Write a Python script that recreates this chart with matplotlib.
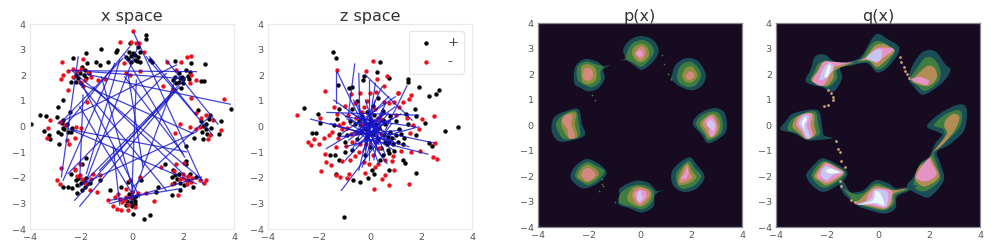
import numpy as np
import matplotlib
matplotlib.use('Agg')
import matplotlib.pyplot as plt
from matplotlib.path import Path
from matplotlib.patches import PathPatch

# x space points
x_black = [(-3.96,0.09),(-3.62,0.45),(-3.36,0.40),(-3.45,-0.18),(-3.25,-0.34),(-2.86,-0.70),(-2.93,0.38),(-2.92,0.77),(-2.72,1.04),(-2.43,0.57),(-2.70,0.25),(-2.90,-0.21),(-2.51,-0.21),(-3.22,-0.47),(-2.30,2.68),(-1.79,2.88),(-1.20,3.04),(-1.27,2.40),(-1.42,2.50),(-0.93,2.52),(-0.64,2.92),(-0.59,2.98),(-1.97,2.33),(-2.19,1.75),(-2.40,1.75),(-1.76,2.46),(0.53,3.57),(0.56,3.40),(0.24,3.09),(-0.09,3.24),(0.04,2.85),(-0.22,2.72),(0.30,2.92),(0.72,2.59),(0.80,2.53),(1.67,2.55),(2.33,2.46),(2.85,2.43),(2.72,1.77),(2.82,1.78),(2.26,2.14),(2.20,1.97),(1.87,1.88),(1.61,1.81),(1.74,1.68),(1.92,1.49),(2.59,0.66),(3.87,0.70),(3.50,0.22),(3.41,-0.28),(3.04,0.45),(2.91,-0.08),(2.78,-0.47),(2.45,-0.43),(2.13,-0.77),(2.10,-1.34),(2.13,-1.45),(-1.79,-1.22),(-1.98,-1.45),(-2.41,-1.84),(-2.18,-2.10),(-1.27,-2.10),(-1.85,-2.36),(-2.70,-2.36),(-2.50,-2.38),(-2.34,-2.40),(-2.16,-2.60),(-1.98,-2.49),(-0.88,-2.49),(-0.42,-2.36),(-0.16,-2.16),(0.37,-2.10),(1.02,-2.36),(0.95,-2.55),(1.55,-2.66),(1.87,-2.49),(2.39,-2.36),(2.52,-1.97),(2.27,-1.84),(1.61,-1.71),(1.29,-1.45),(1.55,-1.97),(0.04,-3.40),(0.10,-3.01),(0.46,-3.60),(0.69,-3.44),(-0.03,-2.95),(-0.09,-2.75),(-0.15,2.65),(0.1,2.6),(0.25,2.7),(-0.05,2.5),(0.3,2.5),(-2.2,2.0),(-1.8,1.9),(-2.0,1.7),(-1.7,2.1),(1.95,1.95),(2.1,2.2),(1.7,1.95),(2.0,1.7),(2.9,0.1),(3.0,0.3),(2.75,-0.2),(-2.6,0.05),(-2.75,0.15),(-2.65,-0.1),(-2.35,-0.05),(-1.9,-2.1),(-2.0,-2.2),(-1.65,-2.2),(1.75,-2.05),(1.9,-2.2),(2.2,-2.1),(0.0,-3.1),(0.05,-2.8),(-0.2,-2.9),(-0.02,2.75),(0.12,2.78),(-0.1,2.9),(0.18,2.55),(-2.05,2.1),(-1.9,2.0),(-1.85,2.2),(-2.1,1.9),(1.85,2.1),(2.0,1.85),(2.25,1.85),(1.85,1.75),(2.8,0.0),(3.1,-0.05),(2.95,-0.3),(2.7,0.2),(-2.7,-0.05),(-2.55,0.1),(-2.8,-0.3),(-2.4,-0.2),(-2.1,-2.0),(-1.8,-2.0),(-1.75,-2.25),(-2.15,-2.3),(1.7,-1.9),(2.05,-2.3),(1.85,-1.85),(1.65,-2.2),(0.1,-2.9),(-0.1,-2.65),(0.15,-2.7),(-0.25,-3.05)]
x_red = [(-2.75,2.53),(-1.94,2.62),(-0.48,3.28),(0.04,3.71),(-0.03,3.31),(0.14,3.27),(0.27,3.25),(0.46,2.92),(-0.33,2.46),(-0.09,2.0),(0.30,2.16),(-0.22,2.10),(1.37,2.50),(2.15,2.70),(2.32,2.75),(1.93,2.53),(2.32,2.0),(2.52,1.81),(2.26,1.68),(1.22,1.58),(1.74,2.20),(1.61,1.45),(2.32,1.12),(3.59,1.08),(2.52,0.51),(2.91,0.45),(3.17,0.25),(3.50,-0.12),(3.04,-0.34),(2.65,-0.01),(2.52,-0.08),(2.26,-0.01),(1.87,0.09),(1.67,-0.24),(2.98,-0.47),(2.72,0.35),(-2.19,-0.01),(-2.00,-0.04),(-3.22,0.25),(-3.29,-0.05),(-3.35,-0.43),(-2.64,0.05),(-2.84,0.18),(-2.55,-0.53),(-2.49,-0.69),(-2.24,-0.44),(-1.76,0.96),(-2.51,1.42),(-2.80,1.84),(-2.70,2.0),(-2.51,2.18),(-2.31,1.94),(-1.72,2.14),(-1.33,1.81),(-1.07,1.84),(-1.92,1.58),(-2.05,1.75),(2.13,-2.10),(2.04,-1.42),(1.15,-1.58),(1.74,-1.45),(2.65,-2.07),(2.91,-2.10),(2.81,-2.20),(1.80,-2.68),(1.55,-2.23),(2.00,-1.84),(2.32,-2.17),(-2.77,-1.62),(-2.05,-1.45),(-2.24,-1.64),(-1.53,-1.84),(-1.27,-1.90),(-2.94,-2.10),(-2.81,-2.23),(-1.66,-2.49),(-1.36,-2.55),(-2.05,-1.90),(-2.24,-1.71),(-0.96,-2.88),(-0.74,-3.11),(-0.59,-3.21),(-0.42,-3.25),(-0.16,-3.27),(-0.68,-2.75),(-0.55,-2.62),(-0.09,-2.10),(0.30,-1.97),(0.23,-2.59),(0.56,-2.59),(0.86,-2.91),(-0.22,-2.42),(0.10,-3.14),(-0.29,-2.88),(-0.03,-2.75),(-0.48,-2.81),(-2.15,2.15),(-2.0,2.25),(-1.85,1.8),(-2.3,2.25),(-1.6,1.95),(2.0,-2.0),(2.2,-1.95),(2.35,-2.0),(1.9,-2.05),(2.15,-2.25),(1.65,-1.75),(-1.95,-2.05),(-1.85,-2.2),(-1.6,-2.05),(-2.15,-1.95),(-0.25,-2.75),(-0.15,-3.05),(-0.4,-2.95),(0.0,-2.55)]
x_lines = [(3.85,0.87,-1.85,2.05),(0.08,3.64,2.78,-2.23),(-2.11,2.72,-2.77,-1.97),(-2.25,-2.88,2.13,1.94),(-2.05,-3.11,1.74,1.42),(-2.90,0.12,1.74,2.40),(-2.70,0.25,-0.35,2.66),(-2.51,-1.84,1.34,2.07),(-2.64,-0.01,-0.09,3.11),(-2.31,2.14,2.78,-2.10),(-2.44,2.18,2.52,2.14),(-1.66,2.14,1.87,1.88),(-2.51,-0.08,2.52,-2.23),(-2.05,1.68,1.34,-2.49),(-0.29,2.79,2.06,-1.19),(2.52,0.44,0.69,2.72),(3.17,-0.34,0.56,2.72),(3.37,0.09,1.34,2.59),(-1.20,1.94,0.04,-2.49),(-2.05,0.77,0.17,-2.88),(-0.87,-3.01,2.72,-1.97),(-0.87,-2.88,1.93,-2.42),(2.13,-0.99,-2.31,-0.14),(-0.48,2.59,-1.79,-1.84),(-0.16,2.07,0.43,-1.58),(0.17,1.81,-0.03,-3.14),(-0.68,2.46,-2.70,-2.10),(1.74,1.94,-0.03,-2.88),(1.87,1.55,-1.27,-1.71),(1.67,1.42,-2.05,-2.36),(3.04,0.38,0.04,-2.36),(2.39,-0.27,-2.05,1.68),(-1.92,-2.23,2.52,-0.21),(0.23,3.11,-1.79,-2.10),(-0.74,-0.79,-0.48,-3.07),(-2.05,1.81,0.30,-2.75),(-1.53,1.55,2.13,-1.97),(-0.29,1.94,2.0,-1.06),(-1.92,1.23,-2.05,-2.10)]

# z space points
z_black = [(-1.46,2.92),(-1.35,2.68),(0.38,2.53),(-2.57,0.73),(-2.03,0.48),(-1.98,0.14),(-2.27,-0.27),(-2.12,-0.27),(-1.01,-3.53),(3.45,-0.01),(2.93,-0.18),(2.70,1.44),(2.59,1.25),(2.30,1.20),(1.93,1.53),(1.49,1.85),(1.49,1.75),(0.29,2.14),(0.76,1.89),(-0.27,1.81),(-0.24,1.99),(-1.25,1.63),(-0.71,1.55),(-0.84,1.49),(1.78,0.69),(1.80,0.40),(2.16,0.14),(1.82,-0.34),(2.33,-0.63),(2.43,-0.76),(1.82,-1.83),(-0.38,-2.17),(-0.08,-2.0),(-0.67,-2.08),(-1.33,-1.85),(-1.56,-1.10),(-1.38,-1.10),(0.09,-1.69),(1.36,-1.43),(1.28,-1.30),(0.76,-1.71),(0.17,-1.85),(-1.2,0.7),(-1.3,0.3),(-1.4,0.05),(-1.2,-0.3),(-1.0,-0.6),(-0.8,0.2),(-0.7,0.7),(-0.5,1.0),(-0.3,0.4),(-0.2,-0.1),(0.0,0.3),(0.1,0.8),(0.3,1.1),(0.5,0.6),(0.6,0.1),(0.7,-0.4),(0.9,-0.7),(1.0,0.2),(1.2,-0.3),(1.3,-0.7),(1.4,0.5),(1.5,0.1),(1.1,-0.6),(0.7,-0.9),(0.5,-1.1),(0.3,-0.5),(0.0,-0.8),(-0.2,-1.1),(-0.5,-0.5),(-0.7,-0.9),(-1.0,-1.0),(-1.2,-1.3),(0.75,-1.05),(0.85,-0.45),(0.65,-0.7),(0.55,-0.35),(1.0,-0.35),(1.15,-0.1),(0.8,0.4),(-0.9,-0.35),(0.2,-0.15),(-0.45,0.2),(0.95,-0.95),(1.35,-0.45),(0.1,-0.3),(0.25,0.1),(-0.1,0.55),(0.35,-0.05),(-0.35,-0.2),(0.6,-0.6),(0.45,-0.85),(0.8,-0.2),(0.15,0.45),(-0.6,0.1),(0.4,-1.3),(0.75,-0.6),(-0.15,-0.45),(-0.05,0.1),(0.5,0.25)]
z_red = [(-2.86,0.44),(-1.29,2.20),(0.10,2.55),(-0.16,2.16),(0.27,1.84),(0.68,1.97),(-1.75,1.40),(-1.98,0.35),(-1.82,-0.43),(-2.42,-0.60),(-2.30,-0.73),(-2.21,-0.47),(-2.0,-0.67),(-1.77,-1.08),(-1.72,-1.38),(-1.93,-1.72),(-1.52,-1.51),(-1.33,-1.90),(-1.19,-1.97),(-0.90,-2.0),(-0.84,-1.87),(-0.21,-1.82),(0.17,-2.45),(0.73,-2.27),(1.52,-2.23),(2.47,-1.19),(2.63,-1.28),(2.56,-0.64),(1.96,-0.95),(1.61,-0.99),(2.50,0.40),(1.61,1.22),(1.54,1.09),(0.56,1.58),(1.10,1.32),(2.04,0.30),(1.93,-0.08),(0.93,-1.71),(0.60,-1.91),(0.47,-2.04),(0.21,-1.58),(-1.4,0.75),(-1.3,0.5),(-1.5,-0.2),(-1.25,-0.45),(-1.35,-0.8),(-1.1,-1.35),(-0.95,-0.75),(-0.75,-0.3),(-0.85,0.45),(-0.6,0.9),(-0.4,1.3),(-0.3,0.55),(-0.1,1.0),(0.2,0.7),(0.45,0.3),(0.1,0.2),(-0.1,-0.3),(-0.4,-0.7),(-0.6,-1.15),(-0.25,-1.4),(0.1,-1.1),(0.35,-0.85),(0.6,-1.3),(0.9,-1.15),(1.2,-0.95),(1.0,0.45),(1.15,0.75),(0.75,0.9),(1.45,0.35),(1.3,0.95),(1.55,-0.25),(1.7,0.05),(-1.05,0.15),(-0.55,0.35),(0.3,0.35),(-0.15,-0.7),(0.45,-0.3),(-0.75,1.25),(0.0,1.3),(-1.6,-0.35),(-1.1,-0.1),(-0.2,0.1),(0.55,0.95),(1.1,1.3),(-0.55,-0.25),(-0.35,0.05),(-0.7,-0.6),(-0.8,-1.3),(-0.45,-1.0),(0.2,-0.6),(-0.05,-1.45),(0.3,-1.45),(0.85,-1.35),(-0.25,0.75),(-1.0,0.8),(-0.9,-0.05),(-1.2,0.05),(0.25,1.35),(0.95,0.95)]
z_lines = [(-1.12,-2.49,0.86,0.12),(-0.60,2.44,-0.84,0.51),(-1.29,2.14,-0.31,0.12),(-1.33,2.14,-1.33,0.9),(-2.33,0.29,0.73,-0.53),(-1.69,0.55,1.91,0.44),(2.27,-1.08,0.08,-0.53),(2.50,-0.64,0.73,-0.27),(1.45,1.59,0.60,-0.14),(-0.18,2.01,1.65,0.25),(-0.44,2.07,-0.38,-0.27),(-1.71,-0.86,0.60,0.51),(-1.56,0.12,1.52,-0.79),(-1.10,-0.27,0.99,1.16),(0.34,-1.45,-0.44,0.64),(0.67,-1.45,-0.31,-0.14),(-0.44,-1.71,0.08,0.38),(-0.97,-1.32,0.73,0.51),(-0.05,1.81,-0.05,-1.32),(-1.42,1.03,0.99,-0.66),(-0.97,0.38,1.78,-0.01),(0.47,1.55,-0.70,-0.92),(0.99,0.77,-0.84,-0.53),(-0.64,1.03,0.47,-1.19),(-1.23,-0.40,1.25,-0.14),(-0.44,-0.01,0.73,1.16),(0.34,-0.66,-0.18,1.03),(1.91,-0.01,-0.97,-0.79),(-0.31,-1.58,0.60,0.90),(0.73,-0.66,-1.10,0.51),(-0.18,-0.92,0.21,1.69),(-0.8,0.1,0.9,-0.9),(-0.5,0.9,0.3,-0.9),(0.5,0.7,-0.3,-1.0),(-1.0,-0.4,0.8,0.2),(-0.1,0.6,0.6,-1.1),(0.9,0.3,-0.6,-0.2),(-0.4,-0.5,0.5,0.5),(0.2,1.0,-0.2,-0.6),(-0.7,0.5,0.7,-0.3),(0.3,-0.3,-0.9,0.3),(1.0,-0.5,-0.3,0.4),(-0.2,-1.1,0.1,0.3),(0.65,0.2,-0.55,-0.75),(-0.25,0.3,0.9,-0.75),(0.15,-1.3,0.45,0.45),(-0.65,-0.15,0.35,-0.7),(1.2,0.5,-0.15,-0.35)]

# p(x) contour outlines, outer level first
p_top = [
    [(-0.79,2.55),(-0.59,2.64),(-0.66,2.97),(-0.46,3.29),(-0.07,3.50),(0.39,3.43),(0.66,3.17),(0.72,2.84),(0.46,2.44),(0.07,2.18),(-0.26,2.37),(-0.52,2.55)],
    [(-0.55,2.62),(-0.45,3.0),(-0.25,3.25),(0.1,3.35),(0.4,3.2),(0.55,2.9),(0.35,2.55),(0.05,2.3),(-0.25,2.45)],
    [(-0.3,2.75),(-0.25,3.05),(0.05,3.2),(0.3,3.05),(0.35,2.75),(0.15,2.5),(-0.1,2.5)],
    [(-0.2,2.8),(-0.1,3.0),(0.1,3.1),(0.22,2.85),(0.1,2.6),(-0.05,2.6)],
    [(-0.15,2.8),(0,2.95),(0.12,2.8),(0,2.68)],
]
p_upper_left = [
    [(-2.58,1.66),(-2.53,2.31),(-2.16,2.60),(-1.70,2.51),(-1.44,2.33),(-1.17,2.37),(-1.44,2.18),(-1.38,1.85),(-1.64,1.45),(-2.03,1.33),(-2.29,1.45)],
    [(-2.45,1.8),(-2.45,2.3),(-2.1,2.5),(-1.75,2.4),(-1.45,2.3),(-1.55,2.1),(-1.55,1.75),(-1.85,1.5),(-2.2,1.6)],
    [(-2.3,1.9),(-2.3,2.3),(-2.05,2.4),(-1.8,2.3),(-1.7,2.05),(-1.75,1.75),(-2.05,1.6),(-2.25,1.7)],
    [(-2.25,2.0),(-2.15,2.25),(-1.9,2.2),(-1.85,1.9),(-2.0,1.75),(-2.2,1.8)],
]
p_upper_right = [
    [(1.21,1.81),(1.40,2.38),(1.83,2.64),(2.29,2.51),(2.58,1.98),(2.42,1.55),(2.03,1.37),(1.57,1.52),(1.31,1.72)],
    [(1.45,1.95),(1.6,2.35),(1.95,2.5),(2.25,2.3),(2.4,1.95),(2.2,1.6),(1.9,1.5),(1.55,1.65)],
    [(1.65,1.95),(1.8,2.25),(2.05,2.3),(2.2,2.1),(2.25,1.9),(2.05,1.7),(1.8,1.7)],
    [(1.8,1.97),(1.95,2.12),(2.1,2.05),(2.1,1.87),(1.95,1.78),(1.82,1.85)],
]
p_right = [
    [(2.07,0.08),(2.36,0.47),(2.88,0.67),(3.28,0.54),(3.41,0.01),(3.28,-0.38),(2.69,-0.71),(2.42,-0.38)],
    [(2.2,0.05),(2.45,0.4),(2.9,0.55),(3.15,0.4),(3.25,0),(3.15,-0.35),(2.7,-0.6),(2.5,-0.35)],
    [(2.35,0.05),(2.55,0.3),(2.85,0.45),(3.05,0.3),(3.15,-0.05),(3.0,-0.4),(2.7,-0.5),(2.55,-0.3)],
    [(2.45,0.05),(2.6,0.3),(2.85,0.4),(3.0,0.15),(3.05,-0.15),(2.85,-0.45),(2.7,-0.4),(2.6,-0.2)],
    [(2.55,0.1),(2.7,0.3),(2.9,0.25),(3.0,-0.05),(2.9,-0.4),(2.75,-0.4),(2.7,-0.1)],
    [(2.62,0.05),(2.75,0.2),(2.92,0.05),(2.88,-0.2),(2.72,-0.1)],
]
p_left = [
    [(-3.47,0.01),(-3.34,0.34),(-2.95,0.54),(-2.42,0.63),(-2.29,0.08),(-2.16,-0.38),(-2.62,-0.58),(-3.15,-0.64),(-3.41,-0.38)],
    [(-3.3,0.0),(-3.15,0.3),(-2.85,0.5),(-2.5,0.55),(-2.4,0.05),(-2.35,-0.4),(-2.7,-0.55),(-3.05,-0.5)],
    [(-3.1,0.05),(-3.0,0.35),(-2.7,0.5),(-2.5,0.45),(-2.55,0.05),(-2.45,-0.45),(-2.75,-0.52),(-2.95,-0.3)],
    [(-3.05,0.15),(-2.95,0.38),(-2.65,0.4),(-2.7,0.05),(-2.55,-0.45),(-2.8,-0.5),(-2.85,-0.15)],
]
p_lower_left = [
    [(-2.73,-2.02),(-2.56,-1.63),(-2.10,-1.33),(-1.64,-1.50),(-1.31,-1.83),(-1.44,-2.09),(-1.77,-2.35),(-2.23,-2.48),(-2.56,-2.29)],
    [(-2.55,-2.0),(-2.4,-1.65),(-2.05,-1.45),(-1.7,-1.6),(-1.4,-1.8),(-1.6,-2.1),(-2.0,-2.35),(-2.35,-2.2)],
    [(-2.45,-2.0),(-2.3,-1.7),(-2.05,-1.55),(-1.75,-1.7),(-1.6,-1.9),(-1.75,-2.1),(-2.05,-2.25),(-2.3,-2.15)],
    [(-2.3,-1.95),(-2.15,-1.7),(-1.95,-1.7),(-1.75,-1.9),(-1.85,-2.1),(-2.1,-2.2)],
]
p_lower_right = [
    [(1.28,-2.33),(1.28,-1.76),(1.90,-1.26),(2.23,-1.56),(2.53,-2.02),(2.23,-2.48),(1.70,-2.62)],
    [(1.45,-2.3),(1.45,-1.85),(1.9,-1.4),(2.15,-1.7),(2.4,-2.0),(2.15,-2.35),(1.7,-2.5)],
    [(1.5,-2.3),(1.55,-1.9),(1.85,-1.5),(2.05,-1.8),(2.2,-2.05),(2.0,-2.25),(1.7,-2.35)],
    [(1.55,-2.25),(1.65,-1.9),(1.85,-1.55),(1.95,-1.85),(2.05,-2.05),(1.85,-2.2)],
    [(1.6,-2.1),(1.75,-1.9),(1.85,-1.65),(1.9,-1.9),(1.8,-2.1)],
]
p_bottom = [
    [(-0.79,-2.75),(-0.79,-2.48),(-0.20,-2.19),(0.33,-2.26),(0.66,-2.58),(0.92,-2.52),(0.59,-2.75),(0.52,-3.21),(0.07,-3.43),(-0.39,-3.27),(-0.85,-3.10)],
    [(-0.75,-2.65),(-0.2,-2.35),(0.3,-2.4),(0.55,-2.65),(0.45,-3.05),(0.1,-3.3),(-0.35,-3.2),(-0.8,-3.05)],
    [(-0.4,-2.6),(-0.15,-2.4),(0.3,-2.5),(0.45,-2.7),(0.35,-3.0),(0.05,-3.2),(-0.3,-3.1),(-0.5,-2.9)],
    [(-0.3,-2.7),(-0.05,-2.45),(0.3,-2.55),(0.38,-2.75),(0.25,-2.95),(0,-3.15),(-0.2,-3.0)],
    [(-0.2,-2.7),(0,-2.55),(0.2,-2.6),(0.25,-2.8),(0.1,-3.0),(-0.05,-3.05)],
    [(-0.1,-2.75),(0,-2.55),(0.05,-2.7),(0.1,-2.85),(0,-3.0),(-0.1,-2.95)],
]
p_beads = [(0.85,2.75),(0.95,2.4),(1.1,2.0),(1.2,1.8),(-1.9,1.2),(-1.75,1.0),(-1.5,-2.1),(-1.45,-2.4),(-1.5,-2.3),(-1.6,-2.6),(-1.0,-3.0)]

# q(x) contour outlines
q_top = [
    [(-2.85,1.75),(-2.65,2.18),(-2.46,2.71),(-2.07,2.77),(-1.74,2.51),(-1.35,2.47),(-0.69,2.68),(-0.10,3.56),(0.42,3.36),(0.81,3.10),(0.77,2.77),(0.35,2.25),(-0.04,2.08),(-0.43,2.44),(-1.08,2.34),(-1.48,2.25),(-1.41,1.85),(-1.74,1.33),(-2.20,1.50),(-2.59,1.59)],
    [(-2.65,1.75),(-2.5,2.1),(-2.35,2.4),(-2.05,2.55),(-1.75,2.45),(-1.2,2.42),(-0.7,2.55),(-0.25,3.2),(0.1,3.3),(0.6,3.0),(0.65,2.85),(0.3,2.35),(-0.05,2.2),(-0.4,2.5),(-1.0,2.4),(-1.6,2.2),(-1.6,1.85),(-1.95,1.5),(-2.3,1.6)],
    [(-2.6,1.75),(-2.4,2.1),(-2.2,2.45),(-1.9,2.5),(-1.7,2.45),(-1.1,2.45),(-0.55,2.6),(-0.15,3.1),(0.2,3.2),(0.6,3.0),(0.6,2.85),(0.25,2.5),(-0.05,2.3),(-0.4,2.55),(-1.1,2.42),(-1.7,2.15),(-1.75,1.85),(-2.05,1.55)],
    [(-2.55,1.75),(-2.3,2.2),(-2.1,2.5),(-1.8,2.5),(-1.15,2.47),(-0.5,2.65),(-0.1,3.0),(0.3,3.05),(0.62,2.97),(0.2,2.65),(-0.05,2.45),(-0.4,2.6),(-1.2,2.43),(-1.8,2.25),(-1.95,1.85),(-2.2,1.55)],
]
q_top_inner = [(-2.3,1.8),(-2.1,2.3),(-1.85,2.45),(-1.75,2.2),(-2.05,1.85)]
q_top_inner2 = [(-0.45,2.65),(-0.1,2.95),(0.15,2.95),(0.1,2.6),(-0.1,2.5)]
q_top_white = [(-2.1,1.9),(-1.95,2.35),(-1.85,2.3),(-1.95,1.95)]
q_upper_right = [
    [(1.20,1.85),(1.40,2.44),(1.79,2.90),(2.25,2.90),(2.64,2.39),(2.84,2.16),(2.51,1.66),(1.79,1.20),(1.40,1.52)],
    [(1.25,1.8),(1.5,2.2),(1.85,2.65),(2.2,2.6),(2.45,2.15),(2.35,1.7),(1.85,1.35),(1.5,1.6)],
    [(1.35,1.75),(1.7,2.15),(2.0,2.35),(2.25,2.2),(2.3,1.85),(2.0,1.55),(1.6,1.6)],
    [(1.3,1.8),(1.6,1.9),(1.8,1.85),(2.0,1.75),(1.9,1.58),(1.6,1.65)],
]
q_right = [
    [(3.42,0.76),(3.10,0.80),(2.44,0.47),(1.92,-0.03),(2.31,-0.25),(2.51,-0.38),(2.25,-0.71),(2.0,-1.23),(1.66,-1.50),(1.40,-2.02),(1.14,-2.42),(1.66,-2.75),(2.05,-2.81),(2.58,-2.16),(2.44,-1.50),(2.31,-1.04),(2.77,-0.78),(3.35,-0.25),(3.49,0.41)],
    [(3.15,0.6),(2.6,0.4),(2.2,0),(2.55,-0.15),(2.6,-0.45),(2.25,-0.95),(2.0,-1.3),(1.65,-1.55),(1.45,-2.05),(1.4,-2.4),(1.7,-2.6),(2.05,-2.5),(2.45,-2.1),(2.3,-1.5),(2.2,-1.05),(2.6,-0.7),(3.15,-0.15),(3.3,0.35)],
    [(2.95,0.45),(2.65,0.2),(2.6,-0.05),(2.7,-0.35),(2.2,-1.0),(1.95,-1.4),(1.6,-1.65),(1.45,-2.1),(1.75,-2.4),(2.1,-2.3),(2.4,-2.0),(2.2,-1.5),(2.1,-1.15),(2.55,-0.75),(3.0,-0.2),(3.2,0.3)],
    [(2.0,-1.3),(1.7,-1.65),(1.5,-2.05),(1.75,-2.2),(2.05,-2.15),(2.3,-1.9),(2.1,-1.5)],
]
q_left = [
    [(-3.83,-0.16),(-3.57,0.21),(-3.31,0.47),(-2.39,0.60),(-2.20,0.01),(-2.13,-0.38),(-1.78,-0.51),(-2.39,-0.58),(-2.78,-0.58),(-3.31,-0.31)],
    [(-3.55,-0.15),(-3.3,0.3),(-2.5,0.55),(-2.35,0.05),(-2.3,-0.35),(-2.75,-0.55),(-3.2,-0.3)],
    [(-3.35,-0.05),(-3.15,0.35),(-2.55,0.45),(-2.5,0.0),(-2.45,-0.35),(-2.8,-0.55),(-3.1,-0.3)],
    [(-3.2,0.05),(-3.0,0.4),(-2.6,0.45),(-2.65,0),(-2.55,-0.4),(-2.8,-0.52),(-3.0,-0.25)],
    [(-3.1,0.1),(-2.9,0.38),(-2.7,0.35),(-2.8,0),(-2.65,-0.45),(-2.8,-0.5),(-2.95,-0.2)],
    [(-3.0,0.1),(-2.85,0.32),(-2.8,0.2),(-2.9,-0.05),(-2.75,-0.45),(-2.85,-0.25)],
]
q_lower_left = [
    [(-2.81,-1.96),(-2.46,-1.50),(-2.20,-1.30),(-1.80,-1.43),(-1.22,-1.83),(-1.41,-2.22),(-2.07,-2.61),(-2.52,-2.42)],
    [(-2.6,-1.95),(-2.35,-1.55),(-2.1,-1.4),(-1.75,-1.55),(-1.3,-1.85),(-1.5,-2.15),(-2.05,-2.45),(-2.4,-2.3)],
    [(-2.5,-2.0),(-2.25,-1.6),(-2.05,-1.45),(-1.7,-1.6),(-1.35,-1.85),(-1.55,-2.1),(-2.0,-2.35),(-2.3,-2.2)],
    [(-2.4,-2.0),(-2.2,-1.65),(-2.0,-1.5),(-1.6,-1.7),(-1.35,-1.85),(-1.6,-2.05),(-2.0,-2.25),(-2.25,-2.15)],
    [(-2.25,-1.95),(-2.05,-1.6),(-1.7,-1.75),(-1.4,-1.85),(-1.75,-1.95),(-2.0,-2.15)],
    [(-2.05,-1.8),(-1.85,-1.7),(-1.5,-1.85),(-1.85,-1.9)],
]
q_bottom = [
    [(-1.54,-2.22),(-1.35,-2.68),(-0.82,-3.14),(-0.56,-3.27),(0.22,-3.47),(0.68,-3.27),(0.75,-2.81),(1.27,-2.55),(1.53,-2.35),(0.75,-2.48),(0.42,-2.29),(-0.10,-2.16),(-0.56,-2.55),(-0.82,-2.62),(-1.09,-2.62),(-1.35,-2.22)],
    [(-1.35,-2.5),(-0.85,-3.05),(-0.3,-3.25),(0.25,-3.35),(0.62,-3.1),(0.7,-2.75),(1.2,-2.52),(0.7,-2.55),(0.3,-2.4),(-0.1,-2.3),(-0.55,-2.65),(-0.95,-2.7)],
    [(-0.95,-3.05),(-0.3,-3.2),(0.25,-3.3),(0.55,-3.05),(0.6,-2.7),(1.15,-2.5),(0.6,-2.55),(0.25,-2.45),(-0.1,-2.4),(-0.5,-2.7),(-0.75,-2.95)],
    [(-0.9,-3.1),(-0.3,-3.15),(0.3,-3.25),(0.5,-2.95),(0.55,-2.6),(0.25,-2.5),(-0.15,-2.5),(-0.4,-2.75),(-0.5,-3.0)],
    [(-0.8,-3.12),(-0.2,-3.1),(0.3,-3.2),(0.4,-2.7),(0.2,-2.55),(-0.15,-2.55),(-0.3,-2.9)],
    [(-0.7,-3.12),(-0.1,-3.05),(0.25,-3.15),(0.1,-2.7),(-0.1,-2.6),(-0.2,-2.95)],
]
q_beads = [(0.85,2.7),(0.9,2.5),(1.0,2.3),(1.05,2.15),(1.15,2.0),(1.2,1.85),(-1.95,1.4),(-1.85,1.25),(-1.75,1.1),(-1.75,1.0),(-2.1,0.75),(-1.95,0.8),(-1.65,-0.6),(-1.55,-0.95),(-1.5,-1.05),(-1.45,-1.4),(-1.3,-1.65),(-1.5,-2.2),(-1.45,-2.4),(-1.05,-2.95),(-0.9,-3.0)]

p_colors = ['#1b4d57','#3f7c3f','#8f8d40','#d3897f','#e59ad0','#cfc8f5']
q_colors = ['#1b4d57','#3f7c3f','#b38b55','#e394c4','#c9c5f3','#eaf6f8']
dark = '#160b20'
ticks = [-4,-2,0,2,4]
yticks = [-4,-3,-2,-1,0,1,2,3,4]


def draw_blob(ax, levels, colors, start=0):
	# closed smooth outline that goes through the read points
	for i, pts in enumerate(levels):
		pts = np.array(pts)
		prev = np.roll(pts, 1, axis=0)
		nxt = np.roll(pts, -1, axis=0)
		nxt2 = np.roll(pts, -2, axis=0)
		verts = [pts[0]]
		codes = [Path.MOVETO]
		for p0, p1, p2, p3 in zip(prev, pts, nxt, nxt2):
			verts += [p1 + (p2-p0)/6, p2 - (p3-p1)/6, p2]
			codes += [Path.CURVE4, Path.CURVE4, Path.CURVE4]
		ax.add_patch(PathPatch(Path(verts, codes), fc=colors[start+i], ec='none', lw=0))


def setup(ax, title, edge, pad=2):
	ax.set_xlim(-4, 4)
	ax.set_ylim(-4, 4)
	ax.set_xticks(ticks)
	ax.set_yticks(yticks)
	ax.tick_params(length=0, labelsize=6.8, colors='#555555', pad=3)
	ax.set_title(title, fontsize=11.5, color='#333333', pad=pad)
	for s in ax.spines.values():
		s.set_color(edge)
		s.set_linewidth(0.9)


def scatter_panel(ax, black, red, lines):
	black = np.array(black)
	red = np.array(red)
	h1 = ax.scatter(black[:,0], black[:,1], s=10, c='black', lw=0, zorder=2)
	h2 = ax.scatter(red[:,0], red[:,1], s=10, c='#ee0f1c', lw=0, zorder=2)
	for x1, y1, x2, y2 in lines:
		ax.plot([x1,x2], [y1,y2], color='#1414cc', lw=0.9, alpha=0.8, zorder=3)
	return h1, h2


W, H = 996.0, 245.0
fig = plt.figure(figsize=(9.96,2.45), dpi=100)

ax1 = fig.add_axes([30/W, 1-229/H, 204/W, 205/H])
scatter_panel(ax1, x_black, x_red, x_lines)
setup(ax1, 'x space', '#e8e8ee')

ax2 = fig.add_axes([268/W, 1-229/H, 204/W, 205/H])
h1, h2 = scatter_panel(ax2, z_black, z_red, z_lines)
setup(ax2, 'z space', '#e8e8ee')
leg = ax2.legend([h1, h2], ['+', '-'], loc='upper right', bbox_to_anchor=(0.96,0.965), borderaxespad=0,
	fontsize=9.5, labelcolor='#444444', frameon=True, framealpha=1, edgecolor='#e4e4e8', fancybox=True,
	handletextpad=0.75, borderpad=0.4, labelspacing=0.45, scatterpoints=1, handlelength=1.8)
leg.get_frame().set_linewidth(0.8)

ax3 = fig.add_axes([538/W, 1-227/H, 204/W, 203.5/H])
ax3.set_facecolor(dark)
for blob in [p_top, p_upper_left, p_upper_right, p_right, p_left, p_lower_left, p_lower_right, p_bottom]:
	draw_blob(ax3, blob, p_colors)
b = np.array(p_beads)
ax3.scatter(b[:,0], b[:,1], s=1.5, c='#3f7c3f', lw=0)
setup(ax3, 'p(x)', '#8a8a90', pad=1)

ax4 = fig.add_axes([776/W, 1-227/H, 204/W, 203.5/H])
ax4.set_facecolor(dark)
for blob in [q_top, q_upper_right, q_right, q_left, q_lower_left, q_bottom]:
	draw_blob(ax4, blob, q_colors)
draw_blob(ax4, [q_top_inner], q_colors, start=4)
draw_blob(ax4, [q_top_inner2], q_colors, start=4)
draw_blob(ax4, [q_top_white], q_colors, start=5)
b = np.array(q_beads)
ax4.scatter(b[:,0], b[:,1], s=4, c='#c9a27a', lw=0)
setup(ax4, 'q(x)', '#8a8a90', pad=1)

fig.savefig('out.png', dpi=100)
